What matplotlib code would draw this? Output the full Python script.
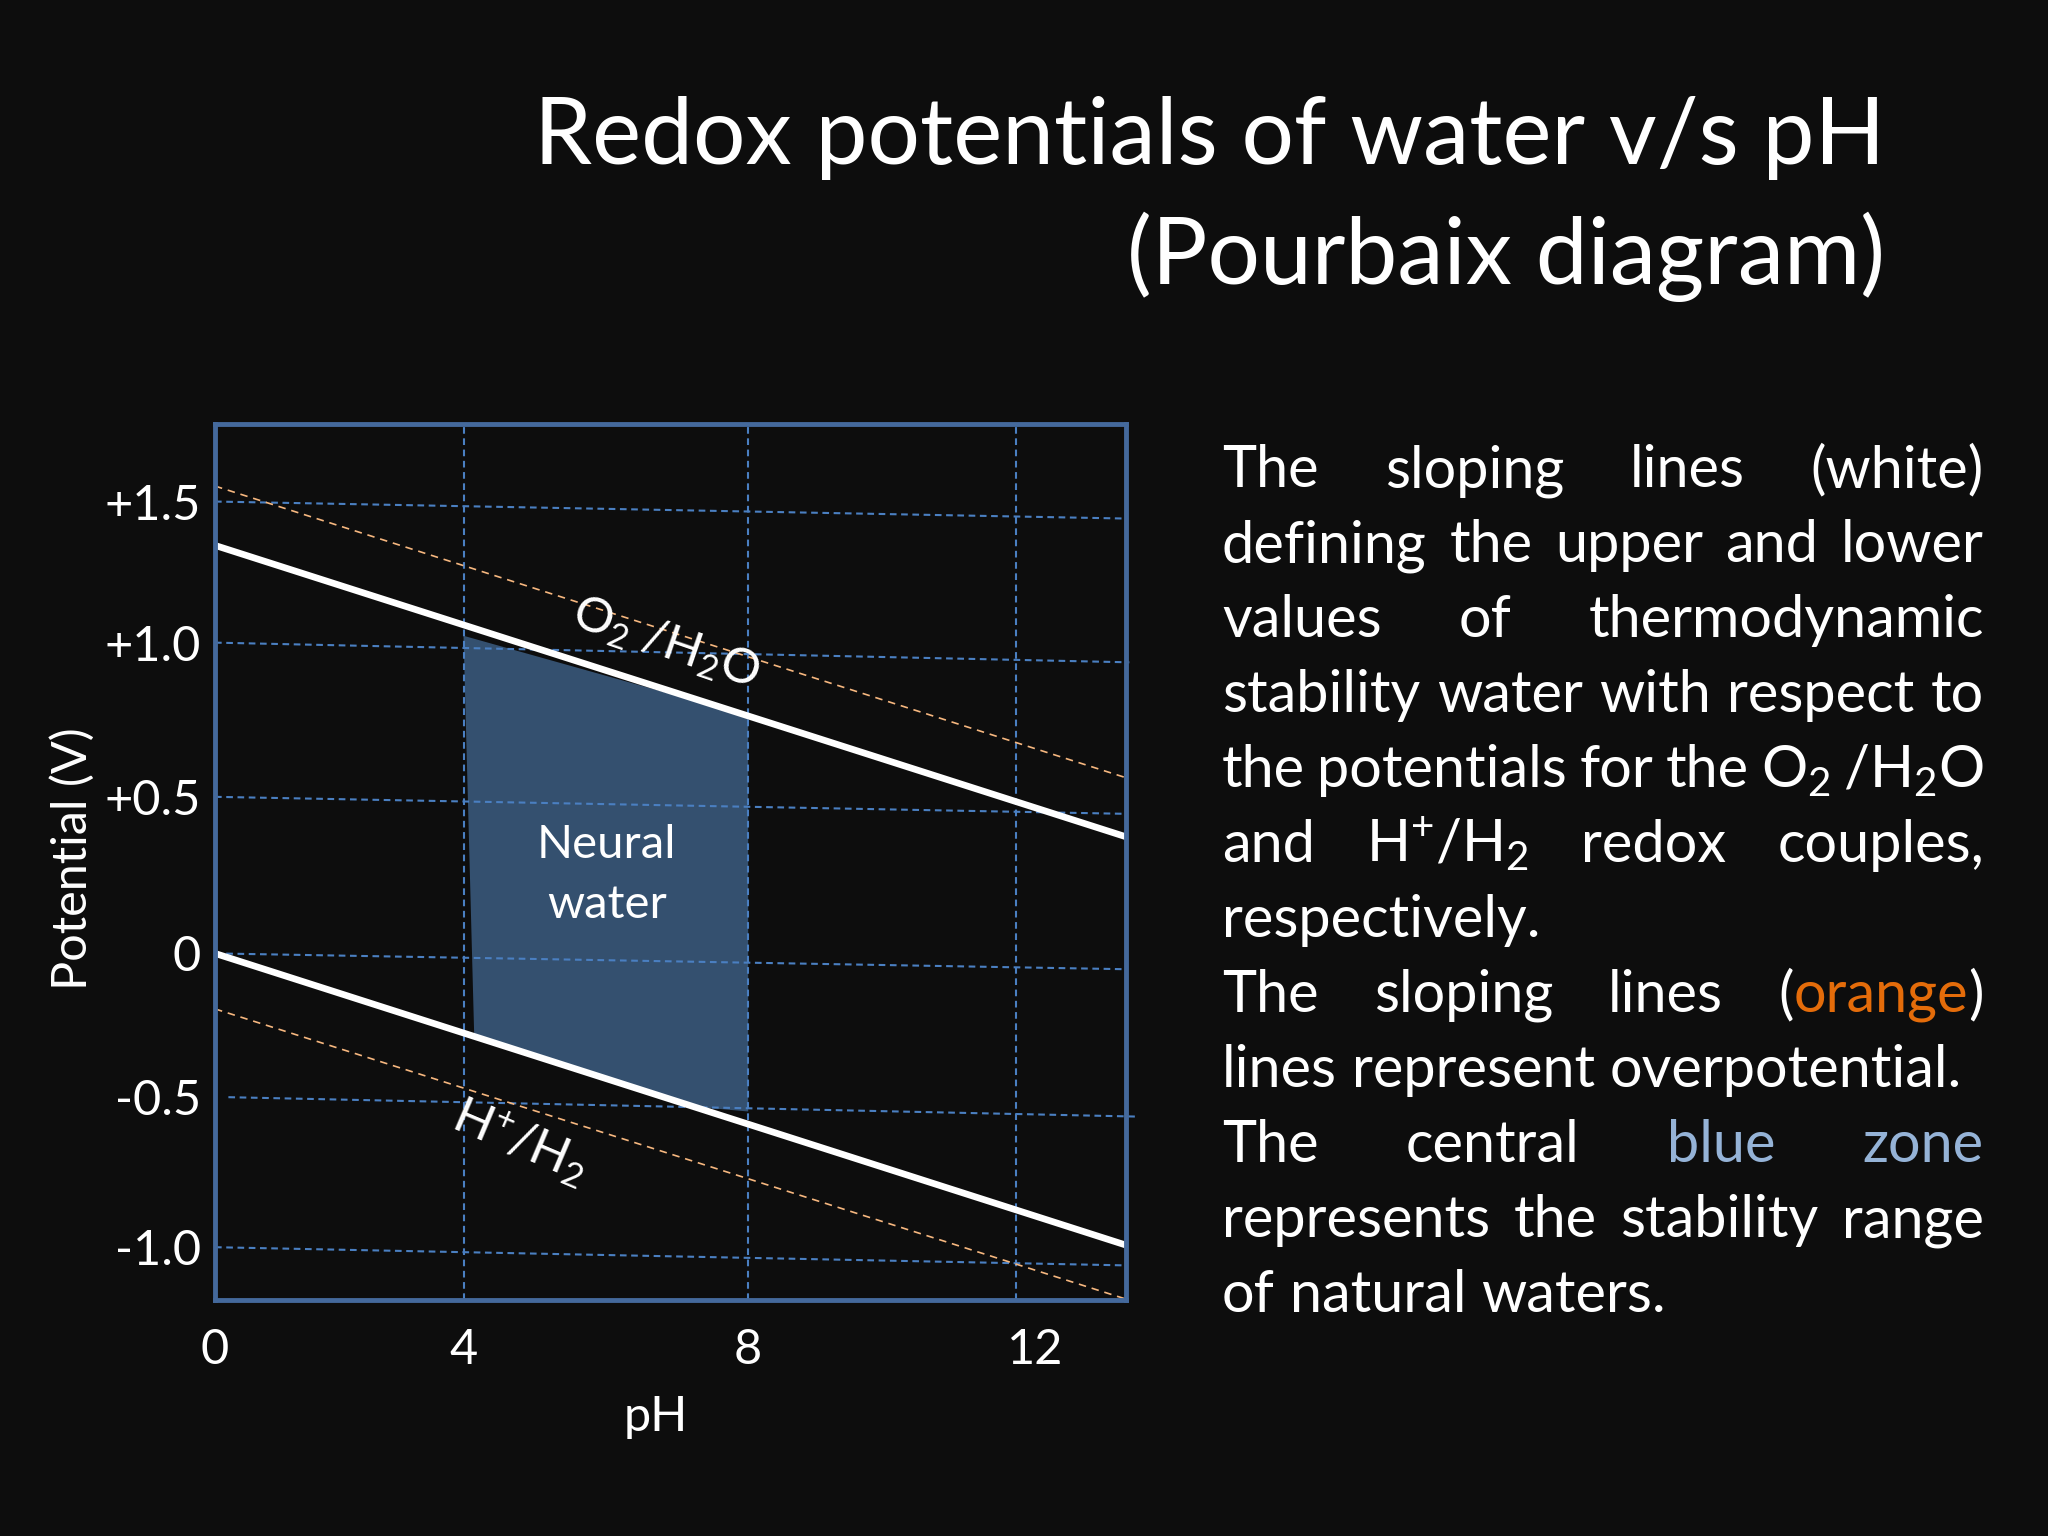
import matplotlib
matplotlib.use("Agg")
import matplotlib.pyplot as plt

plt.rcParams['font.family'] = ['Lato', 'DejaVu Sans']
plt.rcParams['mathtext.fontset'] = 'custom'
plt.rcParams['mathtext.rm'] = 'Lato'
plt.rcParams['mathtext.it'] = 'Lato:italic'
plt.rcParams['mathtext.default'] = 'regular'

# ---------------- data ----------------
ph_max = 13.6
v_min, v_max = -1.162, 1.775
x_grid_pos = [3.71, 7.96, 11.96]
x_tick_pos = [0, 3.71, 7.96, 12.25]
x_tick_labels = ['0', '4', '8', '12']
y_tick_pos = [1.515, 1.042, 0.525, 0.0, -0.482, -0.985]
y_tick_labels = ['+1.5', '+1.0', '+0.5', '0', '-0.5', '-1.0']
grid_right = [1.458, 0.976, 0.468, -0.053, -0.547, -1.046]
grid_x0 = [0, 0, 0, 0, 0.2, 0]
grid_x1 = [13.6, 13.65, 13.6, 13.6, 13.75, 13.6]

line_x = [0, 13.6]
o2_white = [1.368, 0.391]
h2_white = [0.0, -0.978]
o2_orange = [1.567, 0.589]
h2_orange = [-0.186, -1.159]

zone_x = [3.71, 7.96, 7.96, 7.2, 3.87]
zone_y = [1.065, 0.797, -0.53, -0.515, -0.279]

# ---------------- style ----------------
BG = '#0d0d0d'
FRAME = '#44699c'
GRID = '#4a7fc1'
ORANGE_LINE = '#f6b77f'
ZONE = '#34506f'
W = 'white'
ORANGE_TXT = '#e46c0a'
BLUE_TXT = '#95b3d7'

FW, FH = 2048, 1536
fig = plt.figure(figsize=(FW / 100, FH / 100), dpi=100, facecolor=BG)

ax = fig.add_axes([215 / FW, 1 - 1300 / FH, (1126 - 215) / FW, (1300 - 424) / FH])
ax.set_facecolor(BG)
ax.set_xlim(0, ph_max)
ax.set_ylim(v_min, v_max)
for s in ax.spines.values():
    s.set_color(FRAME)
    s.set_linewidth(3.5)
    s.set_zorder(6)

ax.fill(zone_x, zone_y, color=ZONE, zorder=1, lw=0)

for v, r, x0, x1 in zip(y_tick_pos, grid_right, grid_x0, grid_x1):
    ax.plot([x0, x1], [v, r], color=GRID, lw=1.5, ls=(0, (3.2, 2.2)),
            zorder=2, clip_on=False)
for xp in x_grid_pos:
    ax.axvline(xp, color=GRID, lw=1.5, ls=(0, (3.2, 2.2)), zorder=2)

ax.plot(line_x, o2_orange, color=ORANGE_LINE, lw=1.2, ls=(0, (4.5, 3.5)), zorder=2.5)
ax.plot(line_x, h2_orange, color=ORANGE_LINE, lw=1.2, ls=(0, (4.5, 3.5)), zorder=2.5)
ax.plot(line_x, o2_white, color=W, lw=4.8, zorder=3, solid_capstyle='butt')
ax.plot(line_x, h2_white, color=W, lw=4.8, zorder=3, solid_capstyle='butt')

ax.text(6.73, 1.04, r'O$_2$ /H$_2$O', color=W, fontsize=35.5, rotation=-19,
        ha='center', va='center', rotation_mode='anchor', zorder=4)
ax.text(4.55, -0.63, r'H$^{+}$/H$_2$', color=W, fontsize=36, rotation=-23,
        ha='center', va='center', rotation_mode='anchor', zorder=4)
ax.text(5.85, 0.263, 'Neural\nwater', color=W, fontsize=34, ha='center',
        va='center', linespacing=1.55, zorder=4)

ax.set_xticks(x_tick_pos, x_tick_labels)
ax.set_yticks(y_tick_pos, y_tick_labels)
ax.tick_params(axis='both', length=0, colors=W, labelsize=35)
ax.tick_params(axis='x', pad=20)
ax.tick_params(axis='y', pad=10)

ax.set_xlabel('pH', color=W, fontsize=35)
ax.xaxis.set_label_coords((656 - 215) / 911, (1300 - 1417) / 876)
ax.xaxis.label.set_va('center')
ax.set_ylabel('Potential (V)', color=W, fontsize=35)
ax.yaxis.set_label_coords((72 - 215) / 911, (1300 - 859) / 876)
ax.yaxis.label.set_va('center')
ax.yaxis.label.set_ha('center')

# ---------------- title ----------------
fig.text(1885 / FW, 1 - 164 / FH, 'Redox potentials of water v/s pH', color=W,
         fontsize=66.8, ha='right', va='baseline')
fig.text(1885 / FW, 1 - 284 / FH, '(Pourbaix diagram)', color=W,
         fontsize=66.8, ha='right', va='baseline')

# ---------------- justified body text ----------------
body_lines = [
    (['The', 'sloping', 'lines', '(white)'], True),
    (['defining', 'the', 'upper', 'and', 'lower'], True),
    (['values', 'of', 'thermodynamic'], True),
    (['stability', 'water', 'with', 'respect', 'to'], True),
    (['the', 'potentials', 'for', 'the', r'O$_2$', r'/H$_2$O'], True),
    (['and', r'H$^{+}$/H$_2$', 'redox', 'couples,'], True),
    (['respectively.'], False),
    (['The', 'sloping', 'lines', [('(', W), ('orange', ORANGE_TXT), (')', W)]], True),
    (['lines', 'represent', 'overpotential.'], False),
    (['The', 'central', [('blue', BLUE_TXT)], [('zone', BLUE_TXT)]], True),
    (['represents', 'the', 'stability', 'range'], True),
    (['of', 'natural', 'waters.'], False),
]
BODY_FS = 41.5
left_px, right_px = 1222, 1984
base0, step = 487, 75.0

renderer = fig.canvas.get_renderer()


def measure(s):
    t = fig.text(0, 0, s, fontsize=BODY_FS)
    w = t.get_window_extent(renderer).width
    t.remove()
    return w


space_w = measure('a a') - measure('aa')

for i, (words, justify) in enumerate(body_lines):
    y = 1 - (base0 + i * step) / FH
    word_segs = []
    word_w = []
    for wd in words:
        segs = [(wd, W)] if isinstance(wd, str) else wd
        ws = [measure(s) for s, _ in segs]
        word_segs.append((segs, ws))
        word_w.append(sum(ws))
    if justify and len(words) > 1:
        gap = (right_px - left_px - sum(word_w)) / (len(words) - 1)
    else:
        gap = space_w
    x = left_px
    for (segs, ws), tw in zip(word_segs, word_w):
        xx = x
        for (s, c), w in zip(segs, ws):
            fig.text(xx / FW, y, s, color=c, fontsize=BODY_FS, ha='left', va='baseline')
            xx += w
        x += tw + gap

fig.savefig('out.png', dpi=100, facecolor=BG)
